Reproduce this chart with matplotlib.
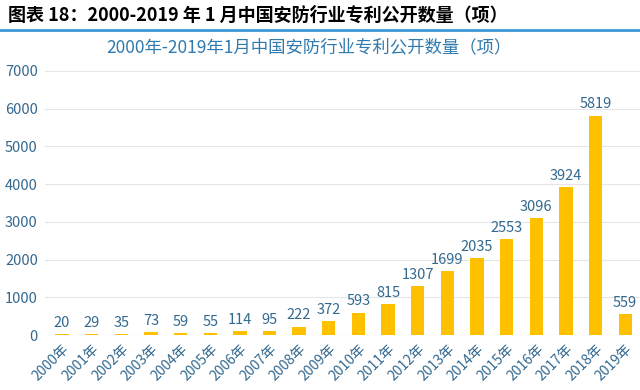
import matplotlib.pyplot as plt

plt.rcParams['font.family'] = ['Noto Sans CJK SC', 'DejaVu Sans']

years = ['2000年', '2001年', '2002年', '2003年', '2004年', '2005年', '2006年',
         '2007年', '2008年', '2009年', '2010年', '2011年', '2012年', '2013年',
         '2014年', '2015年', '2016年', '2017年', '2018年', '2019年']
counts = [20, 29, 35, 73, 59, 55, 114, 95, 222, 372, 593, 815, 1307, 1699,
          2035, 2553, 3096, 3924, 5819, 559]
yticks = [0, 1000, 2000, 3000, 4000, 5000, 6000, 7000]

header = '图表 18：2000-2019 年 1 月中国安防行业专利公开数量（项）'
title = '2000年-2019年1月中国安防行业专利公开数量（项）'

bar_color = '#FFC000'
text_blue = '#33698F'

fig = plt.figure(figsize=(6.4, 3.9), dpi=100)
fig.patch.set_facecolor('white')

# header strip
fig.text(0.012, 0.962, header, fontsize=13, fontweight='bold', color='black',
         ha='left', va='center')
fig.add_artist(plt.Line2D([0, 1], [0.922, 0.922], color='#3C9BD6', lw=2))

fig.text(0.483, 0.878, title, fontsize=12.5, color='#2F7AAE', ha='center', va='center')

ax = fig.add_axes([0.07, 0.141, 0.93, 0.677])
ax.set_facecolor('white')
x = range(len(years))
bars = ax.bar(x, counts, width=0.45, color=bar_color, zorder=3)

for xi, v in zip(x, counts):
    ax.annotate(str(v), (xi, v), xytext=(0, 3), textcoords='offset points',
                ha='center', va='bottom', fontsize=10.5, color=text_blue,
                fontweight='medium')

ax.set_xlim(-0.58, 19.5)
ax.set_ylim(0, 7000)
ax.set_yticks(yticks)
ax.set_yticklabels([str(t) for t in yticks], fontsize=10.5, color=text_blue,
                   fontweight='medium')
ax.set_xticks(list(x))
ax.set_xticklabels(years, rotation=45, ha='right', rotation_mode='anchor',
                   fontsize=10, color=text_blue)
ax.tick_params(length=0, pad=5)
ax.grid(axis='y', color='#e6e6e6', lw=0.8, zorder=0)
for s in ax.spines.values():
    s.set_visible(False)
ax.axhline(0, color='#d9d9d9', lw=0.8, zorder=2)

fig.savefig('out.png', dpi=100)
